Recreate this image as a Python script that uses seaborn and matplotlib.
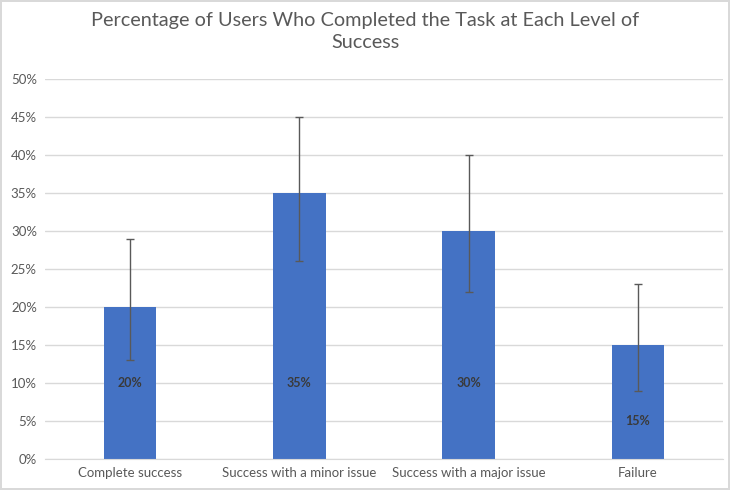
import numpy as np
import matplotlib.pyplot as plt
import seaborn as sns
import pandas as pd
from matplotlib.ticker import PercentFormatter

# valores
categories = ["Complete success", "Success with a minor issue",
              "Success with a major issue", "Failure"]
pct = [20, 35, 30, 15]
err_low = [13, 26, 22, 9]     # extremo inferior de la barra de error
err_high = [29, 45, 40, 23]   # extremo superior
label_y = [10, 10, 10, 5]     # altura de las etiquetas dentro de la barra

df = pd.DataFrame({"level": categories, "pct": pct})

sns.set_style("white")
plt.rcParams['font.family'] = ['Lato', 'DejaVu Sans']

fig = plt.figure(figsize=(7.3, 4.9), dpi=100)
fig.patch.set_edgecolor("#d9d9d9")
fig.patch.set_linewidth(1.5)
ax = fig.add_axes([0.062, 0.063, 0.928, 0.776])

sns.barplot(data=df, x="level", y="pct", color="#4472c4", saturation=1,
            width=0.31, linewidth=0, ax=ax, zorder=2)

yerr = [np.array(pct) - np.array(err_low), np.array(err_high) - np.array(pct)]
ax.errorbar(x=np.arange(len(categories)), y=pct, yerr=yerr, fmt="none",
            ecolor="#595959", elinewidth=1, capsize=3, capthick=1, zorder=3)

for i, (v, ly) in enumerate(zip(pct, label_y)):
    ax.text(i, ly, f"{v}%", ha="center", va="center", fontsize=9,
            fontweight="bold", color="#3a3a3a", zorder=4)

ax.set_ylim(0, 50)
ax.set_yticks(range(0, 51, 5))
ax.yaxis.set_major_formatter(PercentFormatter(decimals=0))
ax.set_xlim(-0.5, 3.5)
ax.grid(axis="y", color="#d9d9d9", linewidth=1, zorder=0)
ax.set_axisbelow(True)
for s in ["top", "right", "left"]:
    ax.spines[s].set_visible(False)
ax.spines["bottom"].set_color("#d9d9d9")
ax.tick_params(axis="both", length=0, labelsize=9.5, colors="#595959", pad=6)
ax.set_xlabel("")
ax.set_ylabel("")

fig.suptitle("Percentage of Users Who Completed the Task at Each Level of\nSuccess",
             fontsize=14.3, color="#595959", y=0.975, linespacing=1.35)

fig.savefig("out.png", dpi=100)
